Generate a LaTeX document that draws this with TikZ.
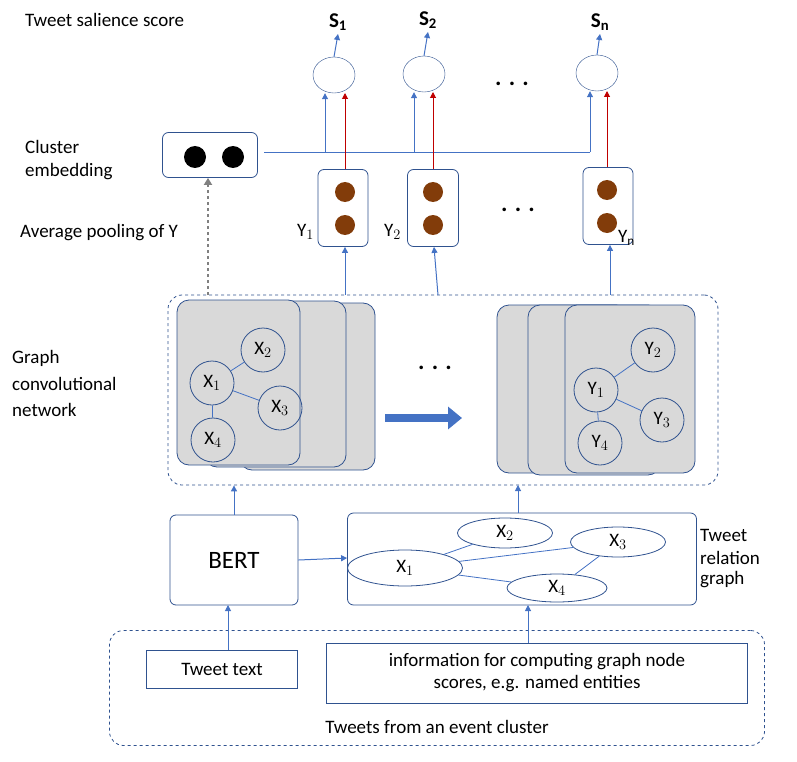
\documentclass[tikz,border=0pt]{standalone}
\usepackage{fontspec}
\setmainfont{Carlito}
\usetikzlibrary{arrows.meta,shapes.geometric}
\definecolor{bl}{RGB}{68,114,196}
\definecolor{bx}{RGB}{47,82,143}
\definecolor{br}{RGB}{130,60,10}
\definecolor{gr}{RGB}{217,217,217}
\begin{document}
\begin{tikzpicture}[x=1pt,y=-1pt,
 every node/.style={font=\fontsize{19}{22}\selectfont},
 lbl/.style={anchor=west,inner sep=0},
 box/.style={draw=bx,rounded corners=6,line width=0.8pt},
 dbox/.style={draw=bx,dashed,rounded corners=14,line width=0.8pt},
 arr/.style={draw=bl,line width=1pt,-{Triangle[length=6,width=6]}},
 rarr/.style={draw=red!75!black,line width=1pt,-{Triangle[length=6,width=6]}},
 sc/.style={draw=bx,ellipse,minimum width=42,minimum height=36,inner sep=0},
 gn/.style={draw=bx,circle,minimum size=44,inner sep=0,line width=0.8pt},
 en/.style={draw=bx,ellipse,inner sep=0,line width=0.8pt},
 gcard/.style={draw=bx,fill=gr,rounded corners=12,line width=0.8pt},
 edge/.style={draw=bl,line width=0.8pt}]
\useasboundingbox (0,0) rectangle (797,762);
\node[lbl] (t1) at (25,20) {Tweet salience score};
\node[font=\fontsize{21}{24}\selectfont\bfseries] (s1) at (338,22) {S$_\mathbf{1}$};
\node[font=\fontsize{21}{24}\selectfont\bfseries] (s2) at (428,20) {S$_\mathbf{2}$};
\node[font=\fontsize{21}{24}\selectfont\bfseries] (sn) at (600,22) {S$_\mathbf{n}$};
\node[sc] (c1) at (334,75) {};
\node[sc] (c2) at (424,74) {};
\node[sc] (cn) at (597,73) {};
\node[font=\fontsize{24}{24}\selectfont\bfseries] (d1) at (512,84) {. . .};
\draw[arr] (c1.north) -- (s1.south);
\draw[arr] (c2.north) -- (s2.south);
\draw[arr] (cn.north) -- (sn.south);
% cluster embedding
\node[box,minimum width=95,minimum height=45] (ce) at (210,155) {};
\fill (195,157) circle (11) (233,157) circle (11);
\node[lbl] (t2) at (25,147) {Cluster};
\node[lbl] (t3) at (25,172) {embedding};
\node[lbl] (t4) at (20,233) {Average pooling of Y};
\coordinate (h0) at (264,152);
\coordinate (h3) at (590,152);
\draw[bl,line width=0.8pt] (h0) -- (h3);
\coordinate (h1) at (325,152); \coordinate (h2) at (414,152);
\draw[arr] (h1) -- (h1 |- c1.south);
\draw[arr] (h2) -- (h2 |- c2.south);
\draw[arr] (h3) -- (h3 |- cn.south);
% Y boxes
\node[box,minimum width=50,minimum height=77] (y1) at (343,208) {};
\node[box,minimum width=51,minimum height=77] (y2) at (433,208) {};
\node[box,minimum width=50,minimum height=77] (yn) at (608,206) {};
\foreach \n/\x/\y in {y1/345/0,y2/433/0,yn/607/-2}{
 \fill[br] (\x,192+\y) circle (10) (\x,225+\y) circle (10);}
\draw[rarr] (y1.north -| 345,0) -- (345,93);
\draw[rarr] (y2.north -| 433,0) -- (433,92);
\draw[rarr] (yn.north -| 607,0) -- (607,91);
\node[lbl] (ly1) at (297,232) {Y$_1$};
\node[lbl] (ly2) at (384,232) {Y$_2$};
\node[lbl] (lyn) at (618,238) {Y$_\mathrm{n}$};
\node[font=\fontsize{24}{24}\selectfont\bfseries] (d2) at (518,210) {. . .};
% GCN
\node[dbox,minimum width=550,minimum height=190] (gcn) at (443,390) {};
\draw[gray,dashed,line width=2pt,-{Triangle[length=7,width=8]}] (208,295) -- (ce.south -| 208,0);
\draw[arr] (345,295) -- (y1.south -| 345,0);
\draw[arr] (438,295) -- (y2.south -| 434,0);
\draw[arr] (610,295) -- (yn.south -| 610,0);
\draw[gcard] (240,303) rectangle (375,470);
\draw[gcard] (205,301) rectangle (346,467);
\draw[gcard] (177,300) rectangle (300,465);
\draw[gcard] (497,305) rectangle (628,473);
\draw[gcard] (528,305) rectangle (660,475);
\draw[gcard] (565,305) rectangle (695,473);
\node[gn] (x2) at (263,350) {X$_2$};
\node[gn] (x1) at (212,383) {X$_1$};
\node[gn] (x3) at (280,408) {X$_3$};
\node[gn] (x4) at (213,440) {X$_4$};
\draw[edge] (x1) -- (x2) (x1) -- (x3) (x1) -- (x4);
\node[gn] (Y2) at (653,350) {Y$_2$};
\node[gn] (Y1) at (596,390) {Y$_1$};
\node[gn] (Y3) at (662,420) {Y$_3$};
\node[gn] (Y4) at (600,443) {Y$_4$};
\draw[edge] (Y1) -- (Y2) (Y1) -- (Y3) (Y1) -- (Y4);
\node[font=\fontsize{24}{24}\selectfont\bfseries] (d3) at (435,368) {. . .};
\coordinate (fa) at (385,418); \coordinate (fb) at (462,418);
\draw[bl,line width=8pt,-{Triangle[length=14,width=22]}] (fa) -- (fb);
\node[lbl] (t5) at (12,358) {Graph};
\node[lbl] (t6) at (12,384) {convolutional};
\node[lbl] (t7) at (12,410) {network};
% BERT & relation graph
\node[box,minimum width=128,minimum height=90,font=\fontsize{25}{28}\selectfont] (bert) at (234,560) {BERT};
\node[box,minimum width=349,minimum height=92] (rg) at (522,559) {};
\draw[arr] (bert.north) -- (bert.north |- gcn.south);
\draw[arr] (518,513) -- (518,485);
\draw[arr] (bert.east) -- (rg.west |- 0,558);
\node[en,minimum width=95,minimum height=30] (e2) at (505,533) {X$_2$};
\node[en,minimum width=115,minimum height=36] (e1) at (405,568) {X$_1$};
\node[en,minimum width=95,minimum height=30] (e3) at (618,542) {X$_3$};
\node[en,minimum width=100,minimum height=28] (e4) at (557,588) {X$_4$};
\draw[edge] (e1) -- (e2) (e1) -- (e3) (e1) -- (e4) (e3) -- (e4);
\node[lbl] (t8) at (700,535) {Tweet};
\node[lbl] (t9) at (700,558) {relation};
\node[lbl] (t10) at (700,580) {graph};
% bottom
\node[dbox,minimum width=655,minimum height=115] (bot) at (437,688) {};
\node[draw=bx,line width=0.8pt,minimum width=151,minimum height=38] (tt) at (222,669) {Tweet text};
\node[draw=bx,line width=0.8pt,minimum width=421,minimum height=60,align=center] (inf) at (537,673) {information for computing graph node\\scores, e.g. named entities};
\node (t11) at (437,727) {Tweets from an event cluster};
\draw[arr] (228,650) -- (228,605);
\draw[arr] (528,643) -- (528,605);
\end{tikzpicture}
\end{document}
